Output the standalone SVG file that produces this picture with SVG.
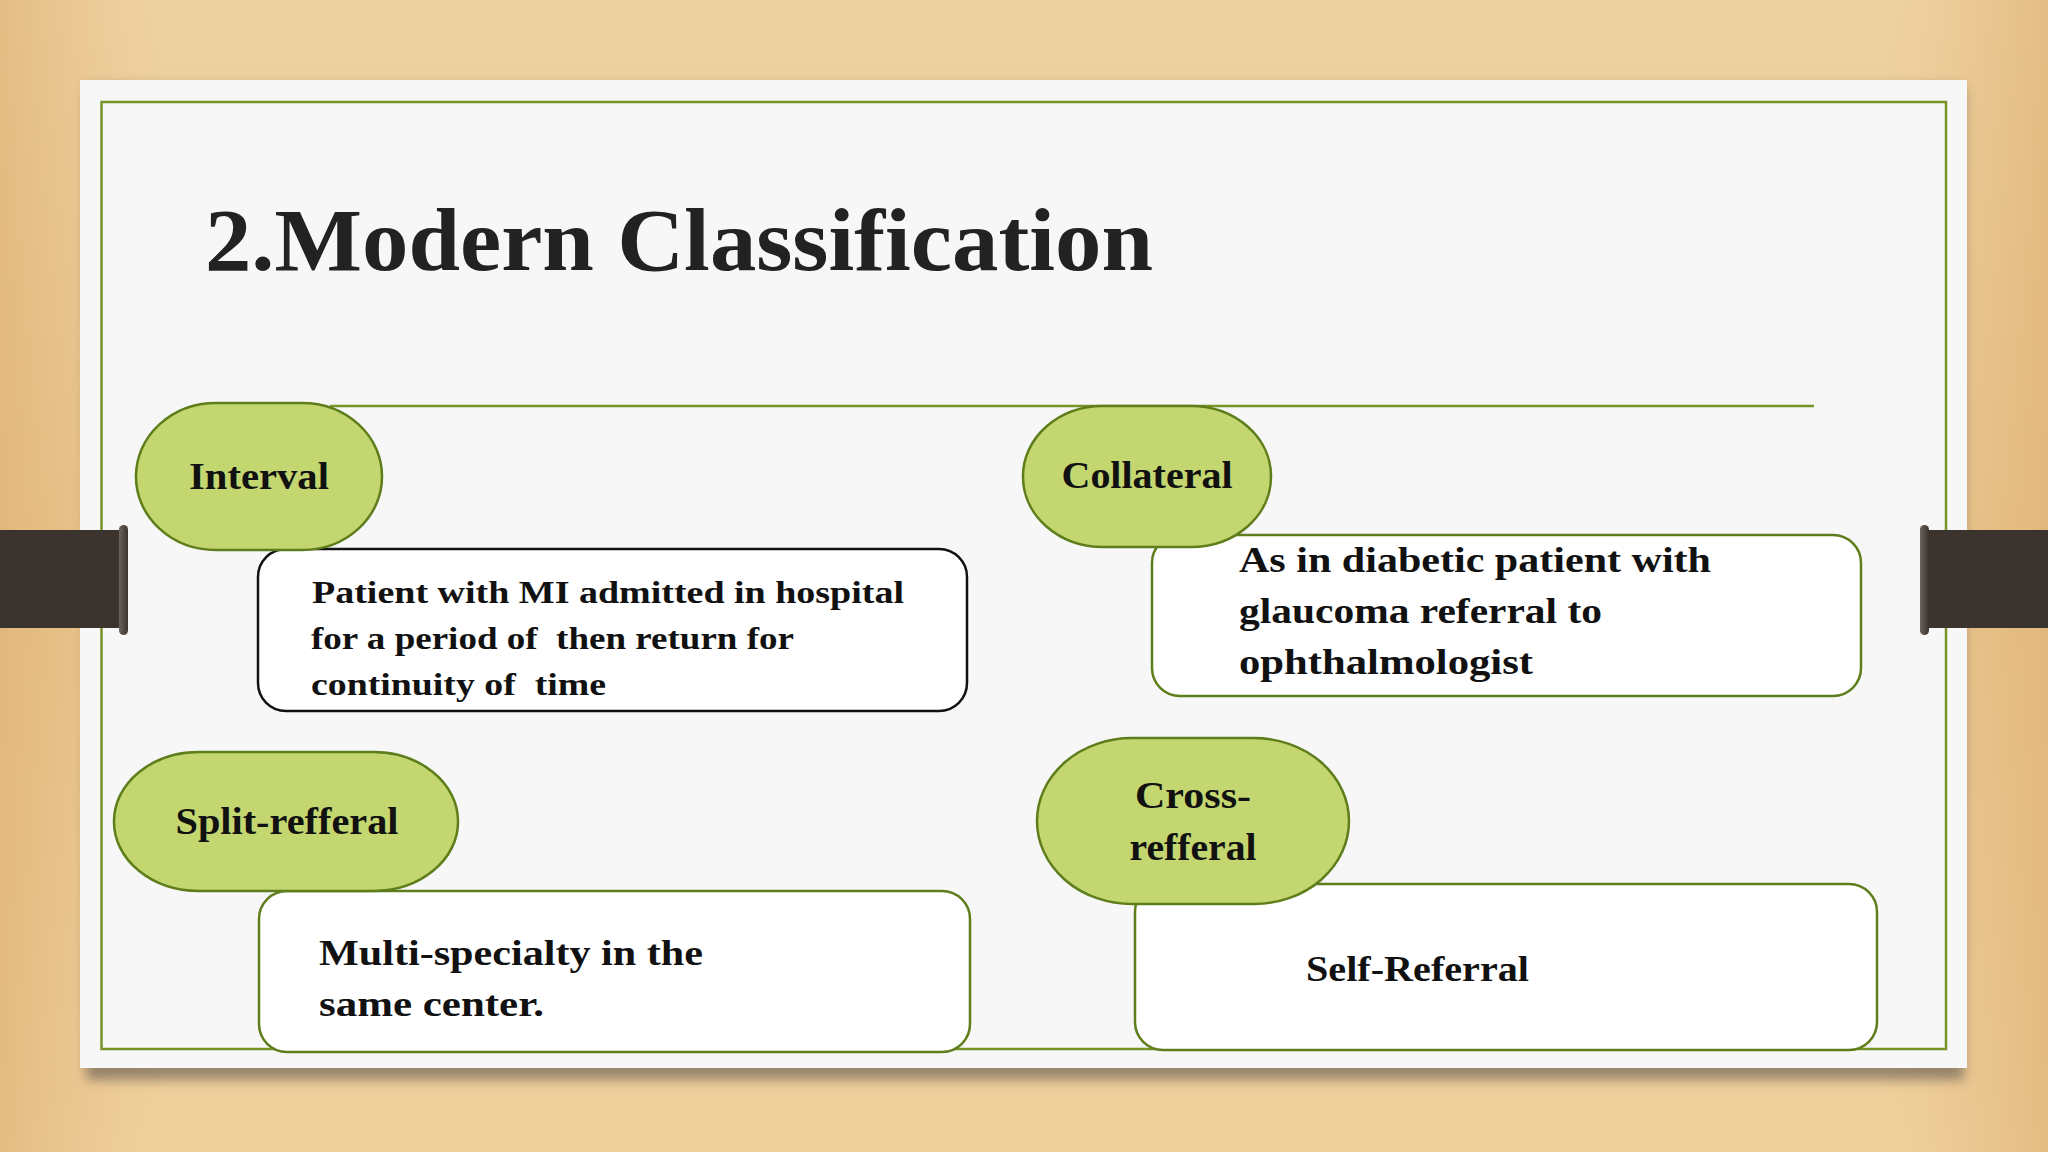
<svg xmlns="http://www.w3.org/2000/svg" width="2048" height="1152" viewBox="0 0 2048 1152">
<defs>
<linearGradient id="wood" x1="0" y1="0" x2="0" y2="1">
<stop offset="0" stop-color="#efd2a2"/>
<stop offset="0.5" stop-color="#e9c48e"/>
<stop offset="1" stop-color="#efd09d"/>
</linearGradient>
<linearGradient id="woodside" x1="0" y1="0" x2="1" y2="0">
<stop offset="0" stop-color="#dcae70" stop-opacity="0.6"/>
<stop offset="0.08" stop-color="#e6bd83" stop-opacity="0"/>
<stop offset="0.92" stop-color="#e6bd83" stop-opacity="0"/>
<stop offset="1" stop-color="#dcae70" stop-opacity="0.6"/>
</linearGradient>
<filter id="shadow" x="-5%" y="-5%" width="110%" height="115%">
<feGaussianBlur stdDeviation="6"/>
</filter>
<linearGradient id="cap" x1="0" y1="0" x2="1" y2="0">
<stop offset="0" stop-color="#6a625b"/>
<stop offset="1" stop-color="#3b342f"/>
</linearGradient>
</defs>
<style>
.lbl{font-family:"Liberation Serif","Times New Roman",serif;font-weight:bold;font-size:37px;fill:#111;}
.desc{font-family:"Liberation Serif","Times New Roman",serif;font-weight:bold;fill:#111;}
.node{fill:#c3d66f;stroke:#5e7d1b;stroke-width:2.5;}
.box{fill:#ffffff;stroke:#5e7d1b;stroke-width:2.5;}
.boxk{fill:#ffffff;stroke:#111;stroke-width:2.5;}
.tab{fill:#3b332e;}
</style>
<rect x="0" y="0" width="2048" height="1152" fill="url(#wood)"/>
<rect x="0" y="0" width="2048" height="1152" fill="url(#woodside)"/>
<rect x="86" y="86" width="1878" height="994" fill="#5e574e" opacity="0.6" filter="url(#shadow)"/>
<rect x="80" y="80" width="1887" height="988" fill="#f7f7f7"/>
<rect x="101.5" y="102" width="1844.5" height="947" fill="none" stroke="#76942a" stroke-width="2.5"/>
<text x="205" y="270" font-family="'Liberation Serif','Times New Roman',serif" font-weight="bold" font-size="88" fill="#222" textLength="948" lengthAdjust="spacingAndGlyphs">2.Modern Classification</text>
<g id="connectors">
<line x1="330" y1="406" x2="1814" y2="406" stroke="#76942a" stroke-width="2.5"/>
</g>
<g id="box-interval">
<rect class="boxk" x="258" y="549" width="709" height="162" rx="28"/>
<text class="desc" font-size="32" x="312" y="603" textLength="592" lengthAdjust="spacingAndGlyphs">Patient with MI admitted in hospital</text>
<text class="desc" font-size="32" x="311" y="649" textLength="483" lengthAdjust="spacingAndGlyphs">for a period of&#160; then return for</text>
<text class="desc" font-size="32" x="311" y="695" textLength="295" lengthAdjust="spacingAndGlyphs">continuity of&#160; time</text>
</g>
<g id="node-interval">
<rect class="node" x="136" y="403" width="246" height="147" rx="80" ry="73"/>
<text class="lbl" x="259" y="489" text-anchor="middle" textLength="140" lengthAdjust="spacingAndGlyphs">Interval</text>
</g>
<g id="box-collateral">
<rect class="box" x="1152" y="535" width="709" height="161" rx="28"/>
<text class="desc" font-size="36" x="1239" y="572" textLength="472" lengthAdjust="spacingAndGlyphs">As in diabetic patient with</text>
<text class="desc" font-size="36" x="1239" y="623" textLength="363" lengthAdjust="spacingAndGlyphs">glaucoma referral to</text>
<text class="desc" font-size="36" x="1239" y="674" textLength="294" lengthAdjust="spacingAndGlyphs">ophthalmologist</text>
</g>
<g id="node-collateral">
<rect class="node" x="1023" y="406" width="248" height="141" rx="80" ry="70"/>
<text class="lbl" x="1147" y="488" text-anchor="middle" textLength="171" lengthAdjust="spacingAndGlyphs">Collateral</text>
</g>
<g id="box-split">
<rect class="box" x="259" y="891" width="711" height="161" rx="28"/>
<text class="desc" font-size="35" x="319" y="965" textLength="384" lengthAdjust="spacingAndGlyphs">Multi-specialty in the</text>
<text class="desc" font-size="35" x="319" y="1016" textLength="225" lengthAdjust="spacingAndGlyphs">same center.</text>
</g>
<g id="node-split">
<rect class="node" x="114" y="752" width="344" height="139" rx="85" ry="69"/>
<text class="lbl" x="287" y="834" text-anchor="middle" textLength="223" lengthAdjust="spacingAndGlyphs">Split-refferal</text>
</g>
<g id="box-cross">
<rect class="box" x="1135" y="884" width="742" height="166" rx="28"/>
<text class="desc" font-size="35" x="1306" y="981" textLength="223" lengthAdjust="spacingAndGlyphs">Self-Referral</text>
</g>
<g id="node-cross">
<rect class="node" x="1037" y="738" width="312" height="166" rx="95" ry="83"/>
<text class="lbl" x="1193" y="808" text-anchor="middle" textLength="116" lengthAdjust="spacingAndGlyphs">Cross-</text>
<text class="lbl" x="1193" y="860" text-anchor="middle" textLength="127" lengthAdjust="spacingAndGlyphs">refferal</text>
</g>
<rect class="tab" x="0" y="530" width="124" height="98"/>
<rect x="119" y="525" width="9" height="110" rx="4.5" fill="url(#cap)"/>
<rect class="tab" x="1924" y="530" width="124" height="98"/>
<rect x="1920" y="525" width="9" height="110" rx="4.5" fill="url(#cap)"/>
</svg>
